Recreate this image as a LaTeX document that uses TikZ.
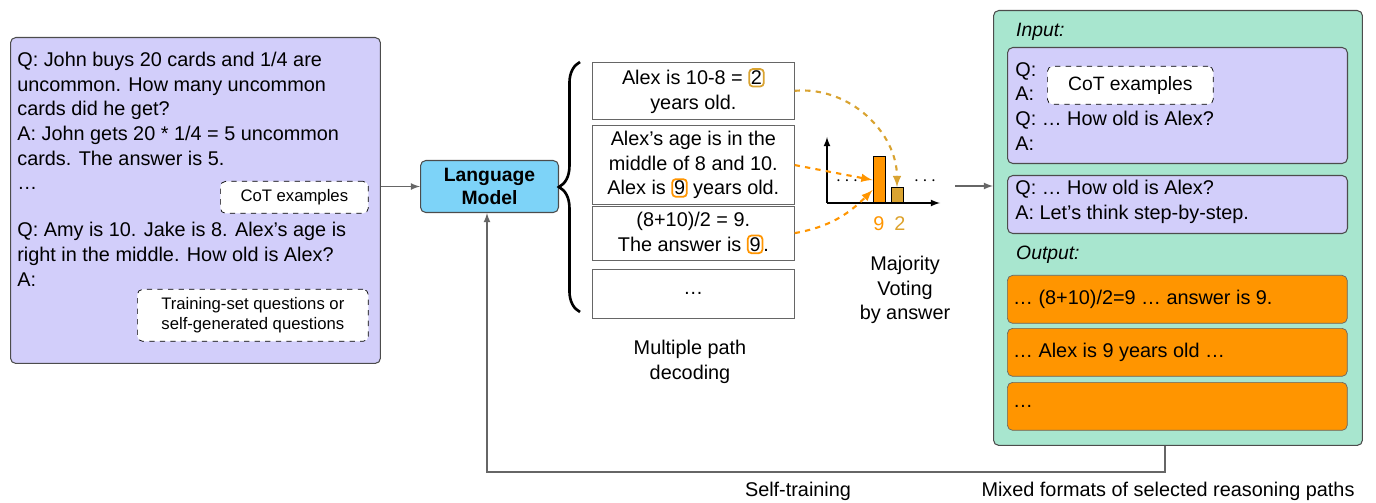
\documentclass[tikz,border=0pt]{standalone}
\usepackage{fontspec}
\setmainfont{Liberation Sans}
\usetikzlibrary{positioning,decorations.pathreplacing}
\definecolor{lav}{HTML}{D2CEFA}
\definecolor{mint}{HTML}{A8E6CF}
\definecolor{lmblue}{HTML}{7DD3F8}
\definecolor{ora}{HTML}{FF9500}
\definecolor{gold}{HTML}{D9A331}
\newcommand{\hlnum}[2][ora]{\tikz[baseline=(h.base)]\node[draw=#1,fill=none,line width=1pt,rounded corners=2pt,inner sep=1pt,minimum width=0pt,minimum height=0pt](h){#2};}
\begin{document}
\begin{tikzpicture}[x=0.02cm,y=-0.02cm,font=\fontsize{11.3}{14}\selectfont]
	\tikzstyle{panel} = [draw=black!70,rounded corners=3pt,line width=0.6pt]
	\tikzstyle{tag} = [draw,dashed,rounded corners=3pt,fill=white,font=\fontsize{9.5}{11.5}\selectfont,align=center]
	\tikzstyle{path} = [draw=black!60,fill=white,align=center,minimum width=4.04cm]
	\tikzstyle{obox} = [draw=black!60,fill=ora,rounded corners=3pt,minimum width=6.8cm,minimum height=0.96cm,anchor=north west]
	\tikzstyle{garrow} = [->,>=latex,draw=black!60,line width=0.8pt]
	\tikzstyle{vote} = [->,>=latex,ora,dashed,dash pattern=on 3pt off 3pt,line width=1.2pt]
	\useasboundingbox (0,0) rectangle (1376,503);
	
	% left prompt
	\node[panel,fill=lav,minimum width=7.4cm,minimum height=6.52cm,anchor=north west] (prompt) at (10,37){};
	\node[anchor=north west,align=left,inner sep=0pt] (ptext) at (17,52){Q: John buys 20 cards and 1/4 are\\uncommon. How many uncommon\\cards did he get?\\A: John gets 20 * 1/4 = 5 uncommon\\cards. The answer is 5.\\\dots\\[0.45cm]Q: Amy is 10. Jake is 8. Alex's age is\\right in the middle. How old is Alex?\\A:};
	\node[tag,minimum width=2.96cm,minimum height=0.64cm,anchor=north west] (cot) at (220,181){CoT examples};
	\node[tag,minimum width=4.62cm,minimum height=1.04cm,anchor=north west] (train) at (137,289){Training-set questions or\\self-generated questions};
	
	% language model
	\node[panel,fill=lmblue,minimum width=2.76cm,minimum height=1.04cm,anchor=north west,align=center,font=\fontsize{11}{13}\selectfont\bfseries] (lm) at (420,160){Language\\Model};
	\draw[garrow] (prompt.east|-lm.west) -- (lm.west);
	
	% sampled paths
	\node[path,minimum height=1.02cm,anchor=north west] (p1) at (592,62){Alex is 10-8 = \hlnum[gold]{2}\\years old.};
	\node[path,minimum height=1.4cm,anchor=north west] (p2) at (592,125){Alex's age is in the\\middle of 8 and 10.\\Alex is \hlnum{9} years old.};
	\node[path,minimum height=1.04cm,anchor=north west] (p3) at (592,206){(8+10)/2 = 9.\\The answer is \hlnum{9}.};
	\node[path,minimum height=0.98cm,anchor=north west] (p4) at (592,269){\dots};
	\draw[decorate,decoration={brace,amplitude=12pt},line width=1.5pt] (580,312) -- (580,62);
	\node[align=center] (mpd) at (690,362){Multiple path\\decoding};
	
	% voting chart
	\coordinate (o) at (827,203);
	\draw[->,>=latex,line width=0.8pt] (o) -- ++(0,-66);
	\draw[->,>=latex,line width=0.8pt] (o) -- ++(113,0);
	\node[fill=ora,draw,line width=0.5pt,minimum width=0.24cm,minimum height=0.92cm,inner sep=0pt,anchor=south] (bar9) at (879,203){};
	\node[fill=gold,draw,line width=0.5pt,minimum width=0.24cm,minimum height=0.3cm,inner sep=0pt,anchor=south] (bar2) at (897,203){};
	\node (dl) at (847,181){$\cdots$};
	\node (dr) at (925,181){$\cdots$};
	\node[ora,anchor=north] (l9) at (879,210){9};
	\node[gold!90!ora,anchor=north] (l2) at (900,210){2};
	\node[align=center] (mv) at (905,290){Majority\\Voting\\by answer};
	\draw[vote,gold] (p1.east) to[out=5,in=90] (bar2.north);
	\draw[vote] (p2.east) -- (bar9.west|-0,180);
	\draw[vote] (p3.east) to[out=10,in=225] (bar9.west|-0,190);
	
	% right panel
	\node[panel,fill=mint,minimum width=7.38cm,minimum height=8.7cm,anchor=north west] (res) at (993,10){};
	\draw[garrow] (955,186) -- (res.west|-0,186);
	\node[anchor=west,font=\fontsize{11}{13}\selectfont\itshape] (inp) at (1010,32){Input:};
	\node[panel,fill=lav,minimum width=6.8cm,minimum height=2.32cm,anchor=north west] (in1) at (1007,47){};
	\node[anchor=north west,align=left,inner sep=0pt] (in1t) at (1015,62){Q:\\A:\\Q: \dots\ How old is Alex?\\A:};
	\node[tag,font=\fontsize{11}{13}\selectfont,minimum width=3.32cm,minimum height=0.76cm,anchor=north west] (cot2) at (1047,66){CoT examples};
	\node[panel,fill=lav,minimum width=6.8cm,minimum height=1.16cm,anchor=north west] (in2) at (1007,175){};
	\node[anchor=north west,align=left,inner sep=0pt] (in2t) at (1015,180){Q: \dots\ How old is Alex?\\A: Let's think step-by-step.};
	\node[anchor=west,font=\fontsize{11}{13}\selectfont\itshape] (outp) at (1010,255){Output:};
	\node[obox] (o1) at (1007,275){};
	\node[anchor=west] at (o1.west){\dots\ (8+10)/2=9 \dots\ answer is 9.};
	\node[obox] (o2) at (1007,328){};
	\node[anchor=west] at (o2.west){\dots\ Alex is 9 years old \dots};
	\node[obox] (o3) at (1007,382){};
	\node[anchor=west] at (o3.west){\dots};
	
	% self-training loop
	\draw[garrow] (res.south-|1165,0) -- (1165,472) -- (487,472) -- (lm.south-|487,0);
	\node (st) at (798,491){Self-training};
	\node (mix) at (1168,491){Mixed formats of selected reasoning paths};
\end{tikzpicture}
\end{document}
